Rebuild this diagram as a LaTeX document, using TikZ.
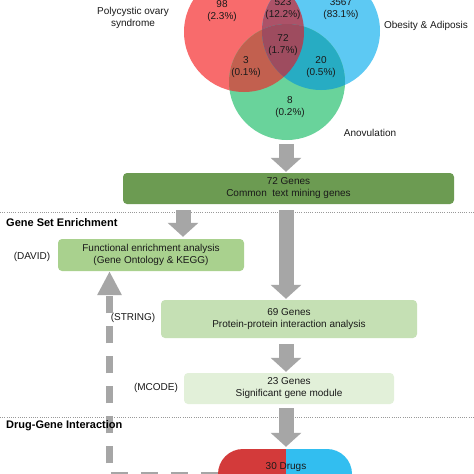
\documentclass[tikz,border=0pt]{standalone}
\usepackage{fontspec}
\setmainfont{Liberation Sans}
\usetikzlibrary{arrows.meta}
\definecolor{cR}{HTML}{F86B6C}
\definecolor{cB}{HTML}{5DC9F3}
\definecolor{cG}{HTML}{69D39B}
\definecolor{cRB}{HTML}{AC5268}
\definecolor{cRG}{HTML}{C2604F}
\definecolor{cBG}{HTML}{27ACC3}
\definecolor{cRGB}{HTML}{9E4C5F}
\definecolor{gDark}{HTML}{6C9B52}
\definecolor{gMid}{HTML}{A9D18E}
\definecolor{gLight}{HTML}{C5E0B4}
\definecolor{gPale}{HTML}{E2F0D9}
\definecolor{arrowgray}{HTML}{A6A6A6}
\definecolor{tcol}{HTML}{1A1A1A}
\definecolor{dRed}{HTML}{D33A3A}
\definecolor{dBlue}{HTML}{32BEF0}
\begin{document}
\begin{tikzpicture}[x=1pt,y=-1pt,
  txt/.style={font=\fontsize{10}{12}\selectfont, text=tcol, align=center, inner sep=0pt},
  hdr/.style={font=\bfseries\fontsize{11}{13}\selectfont, text=black, anchor=west, inner sep=0pt},
  box/.style={rounded corners=4pt, inner sep=0pt, font=\fontsize{10}{12}\selectfont, text=tcol, align=center},
  bigarrow/.style={draw=arrowgray, line width=15pt, -{Triangle[width=30pt,length=14pt]}},
  fbline/.style={draw=arrowgray, line width=7pt, dash pattern=on 17pt off 13pt, -{Triangle[width=23pt,length=24pt]}},
  dotline/.style={draw=gray!80, line width=0.8pt, dash pattern=on 0.8pt off 1.4pt},
  vcirc/.style={circle, inner sep=0pt, minimum size=#1}
]
\clip (0,0) rectangle (474,474);
\fill[white] (0,0) rectangle (474,474);

% Venn
\node[vcirc=120pt, fill=cR] (red) at (244,32) {};
\node[vcirc=118pt, fill=cB] (blue) at (321,31) {};
\node[vcirc=116pt, fill=cG] (green) at (287,82) {};
\begin{scope}
  \clip (244,32) circle[radius=60pt];
  \fill[cRB] (321,31) circle[radius=59pt];
  \fill[cRG] (287,82) circle[radius=58pt];
\end{scope}
\begin{scope}
  \clip (321,31) circle[radius=59pt];
  \fill[cBG] (287,82) circle[radius=58pt];
\end{scope}
\begin{scope}
  \clip (244,32) circle[radius=60pt];
  \clip (321,31) circle[radius=59pt];
  \fill[cRGB] (287,82) circle[radius=58pt];
\end{scope}

\node[txt] (n98) at (222,11) {98\\(2.3\%)};
\node[txt] (n523) at (283,9) {523\\(12.2\%)};
\node[txt] (n3567) at (341,9) {3567\\(83.1\%)};
\node[txt] (n72) at (283,45.5) {72\\(1.7\%)};
\node[txt] (n3) at (246,67) {3\\(0.1\%)};
\node[txt] (n20) at (321,67) {20\\(0.5\%)};
\node[txt] (n8) at (290,107) {8\\(0.2\%)};

\node[txt] (lPCOS) at (133,17.5) {Polycystic ovary\\syndrome};
\node[txt] (lObes) at (426,26) {Obesity \& Adiposis};
\node[txt] (lAno) at (370,133) {Anovulation};

% dotted separators
\draw[dotline] (0,212) -- (474,212);
\draw[dotline] (0,417) -- (474,417);

% boxes
\node[box, fill=gDark, minimum width=331pt, minimum height=31pt] (genes) at (288.5,188.5) {72 Genes\\Common~ text mining genes};
\node[box, fill=gMid, minimum width=186pt, minimum height=32pt] (david) at (151,255) {Functional enrichment analysis\\(Gene Ontology \& KEGG)};
\node[box, fill=gLight, minimum width=256pt, minimum height=38pt] (string) at (289,319) {69 Genes\\Protein-protein interaction analysis};
\node[box, fill=gPale, minimum width=210pt, minimum height=31pt] (mcode) at (289,388.5) {23 Genes\\Significant gene module};

\node[minimum width=134pt, minimum height=52pt, rounded corners=25pt, inner sep=0pt,
  path picture={
    \fill[dRed, sharp corners] (path picture bounding box.north west) rectangle ([xshift=1pt]path picture bounding box.south);
    \fill[dBlue, sharp corners] (path picture bounding box.north east) rectangle ([xshift=1pt]path picture bounding box.south);
  }] (drugs) at (285,475) {};
\node[txt] (drugtxt) at (286,467) {30 Drugs};

% feedback dashed connector
\coordinate (fbx) at (109.5,0);
\draw[fbline] (drugs.west) -| (fbx |- david.south);

\node[hdr] (h1) at (6,223) {Gene Set Enrichment};
\node[hdr] (h2) at (6,426) {Drug-Gene Interaction};

\node[txt] (lDavid) at (32,257) {(DAVID)};
\node[txt] (lString) at (133,318) {(STRING)};
\node[txt] (lMcode) at (156,388) {(MCODE)};

% arrows
\coordinate (col) at (286,0);
\coordinate (col2) at (183,0);
\draw[bigarrow, shorten <=4pt, shorten >=1pt] (col |- green.south) -- (col |- genes.north);
\draw[bigarrow, shorten <=6pt, shorten >=2pt] (col2 |- genes.south) -- (col2 |- david.north);
\draw[bigarrow, shorten <=6pt, shorten >=1pt] (col |- genes.south) -- (col |- string.north);
\draw[bigarrow, shorten <=6pt, shorten >=1pt] (col |- string.south) -- (col |- mcode.north);
\draw[bigarrow, shorten <=4pt, shorten >=2pt] (col |- mcode.south) -- (col |- drugs.north);
\end{tikzpicture}
\end{document}
